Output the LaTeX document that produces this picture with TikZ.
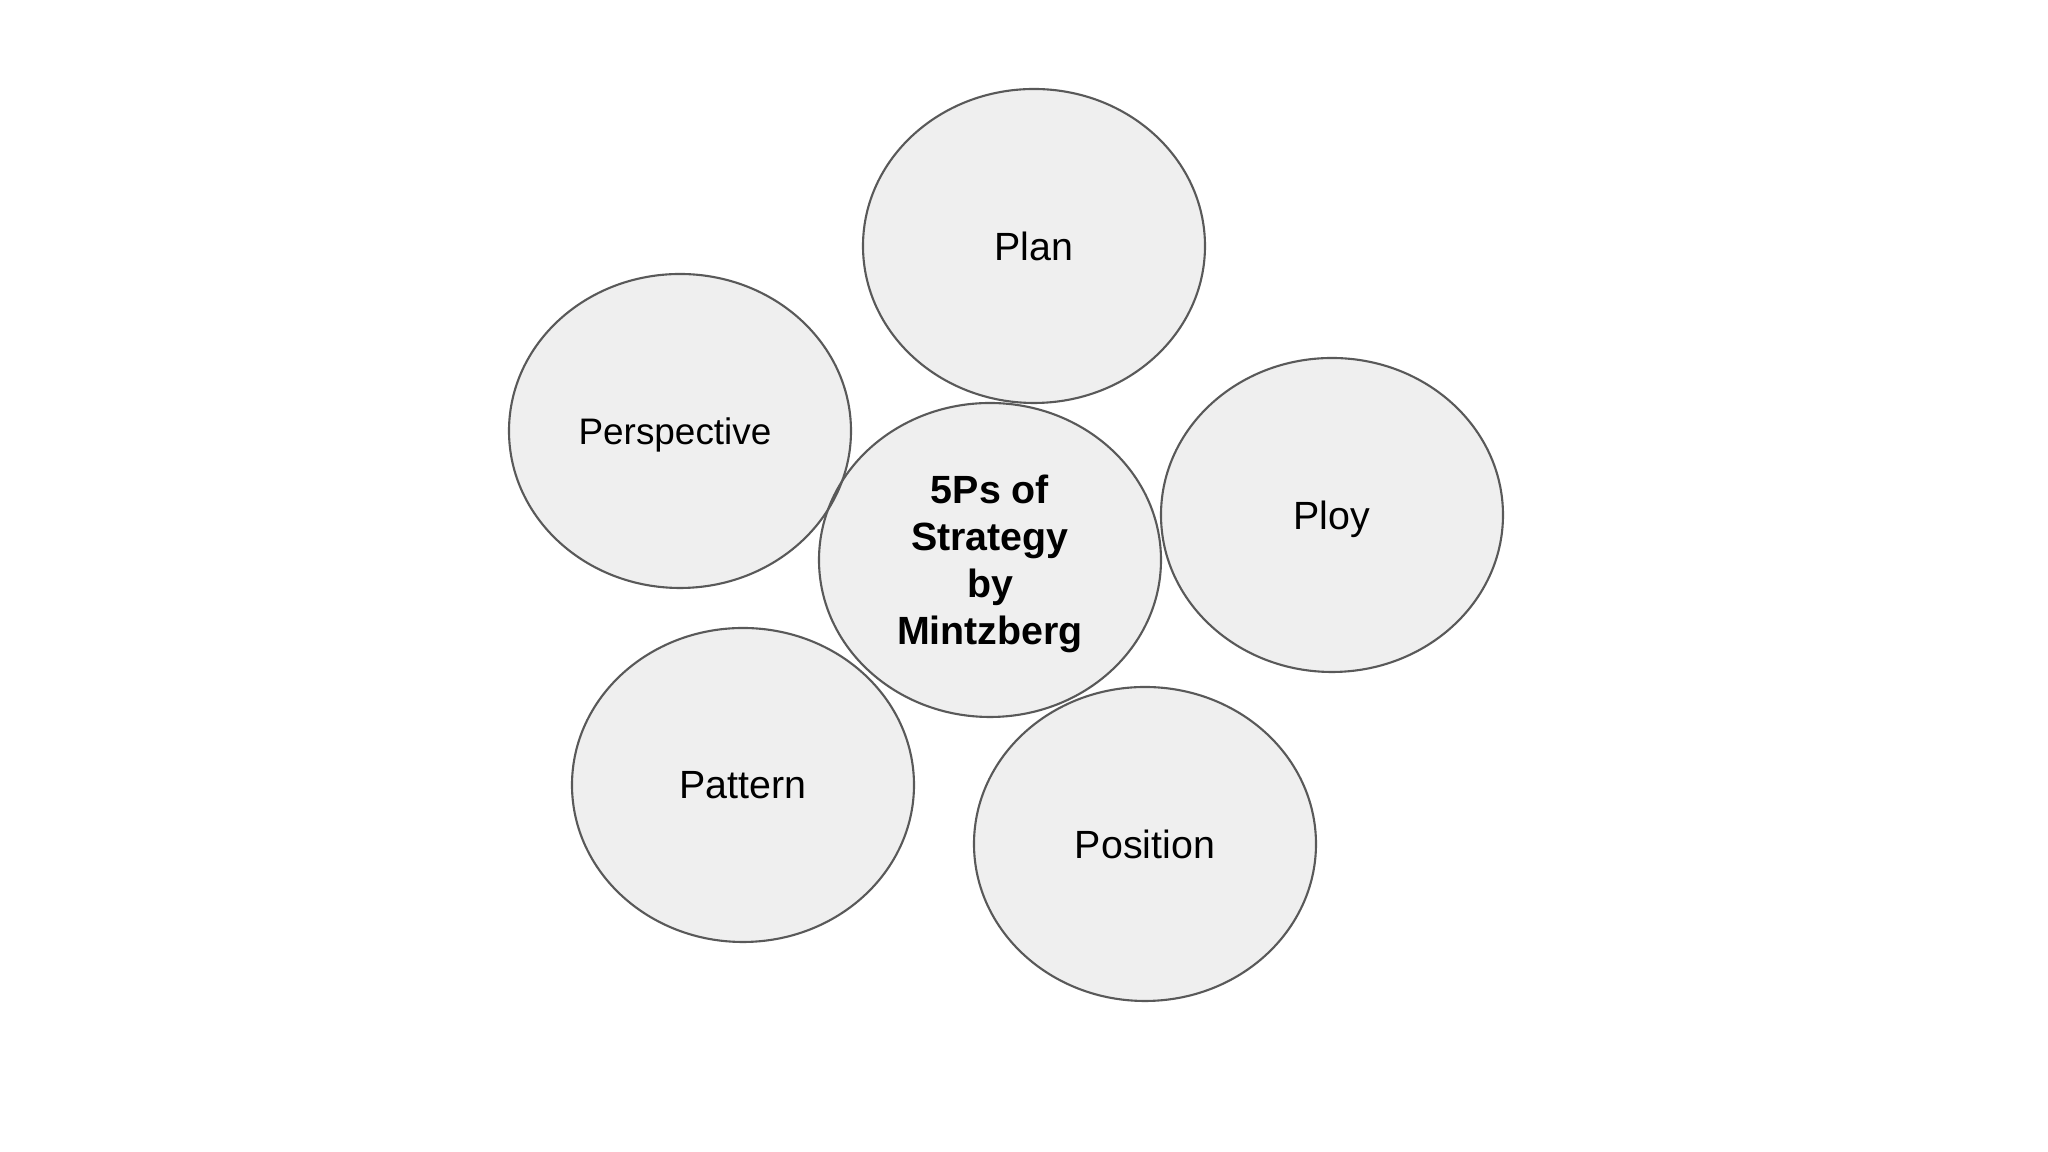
\documentclass[tikz,border=0pt]{standalone}
\usepackage{fontspec}
\setmainfont{Liberation Sans}
\usepackage{tikz}
\usetikzlibrary{shapes.geometric, backgrounds}

\definecolor{petalfill}{HTML}{EFEFEF}
\definecolor{petalline}{HTML}{595959}

\begin{document}
\begin{tikzpicture}[every node/.style={draw=petalline, line width=0.6pt, ellipse, minimum width=3.42cm, minimum height=3.14cm, inner sep=0pt, align=center, text depth=0pt, font=\fontsize{11.2}{13.4}\selectfont}]
	\useasboundingbox (0,0) rectangle (20.48,11.52);

	\node (plan) at (10.34,9.06) {Plan};
	\node[font=\fontsize{10.5}{12.6}\selectfont] (persp) at (6.80,7.21) {Perspective\hspace{0.1cm}};
	\node[font=\fontsize{11.2}{13.4}\selectfont\bfseries] (core) at (9.90,5.92) {5Ps of\\Strategy\\by\\Mintzberg};
	\node (ploy) at (13.32,6.37) {Ploy};
	\node (pattern) at (7.43,3.67) {Pattern};
	\node (position) at (11.45,3.08) {Position};

	\begin{scope}[on background layer]
		\fill[white] (0,0) rectangle (20.48,11.52);
		\foreach \n in {plan, persp, core, ploy, pattern, position}
			\fill[petalfill] (\n.center) ellipse [x radius=1.71, y radius=1.57];
	\end{scope}
\end{tikzpicture}
\end{document}
